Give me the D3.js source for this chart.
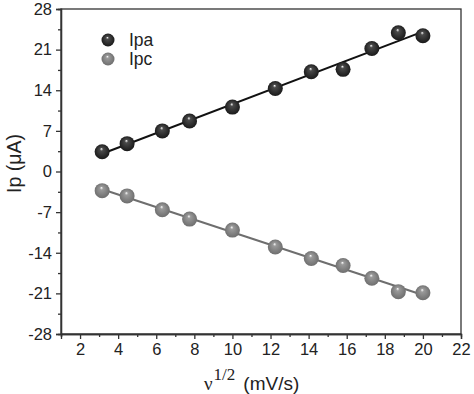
<!DOCTYPE html>
<html>
<head>
<meta charset="utf-8">
<script src="https://d3js.org/d3.v7.min.js"></script>
<style>
  body { margin: 0; background: #fff; }
  svg { display: block; font-family: "Liberation Sans", Arial, sans-serif; }
</style>
</head>
<body>
<div id="chart"></div>
<script>
// sqrt of scan rate (mV/s)^1/2
var sqrtRate = [3.16, 4.47, 6.32, 7.75, 10.0, 12.25, 14.14, 15.81, 17.32, 18.71, 20.0];
var ipa = [3.4, 4.8, 7.0, 8.7, 11.1, 14.3, 17.2, 17.6, 21.2, 23.9, 23.4];
var ipc = [-3.3, -4.2, -6.6, -8.2, -10.1, -13.0, -15.0, -16.2, -18.4, -20.7, -20.9];

var xTicks = [2, 4, 6, 8, 10, 12, 14, 16, 18, 20, 22];
var xMinor = [1, 3, 5, 7, 9, 11, 13, 15, 17, 19, 21];
var yTicks = [-28, -21, -14, -7, 0, 7, 14, 21, 28];
var yMinor = [-24.5, -17.5, -10.5, -3.5, 3.5, 10.5, 17.5, 24.5];

var W = 474, H = 394;
var m = {left: 61, right: 13, top: 9, bottom: 60};

var svg = d3.select("#chart").append("svg").attr("width", W).attr("height", H);

var defs = svg.append("defs");
function sphere(id, mid, dark) {
  var g = defs.append("radialGradient").attr("id", id)
    .attr("cx", "0.5").attr("cy", "0.5").attr("r", "0.55")
    .attr("fx", "0.45").attr("fy", "0.3");
  g.append("stop").attr("offset", "0%").attr("stop-color", "#fff");
  g.append("stop").attr("offset", "20%").attr("stop-color", mid);
  g.append("stop").attr("offset", "100%").attr("stop-color", dark);
}
sphere("gBlack", "#4a4a4a", "#151515");
sphere("gGray", "#9a9a9a", "#6a6a6a");

var x = d3.scaleLinear().domain([1, 22]).range([m.left, W - m.right]);
var y = d3.scaleLinear().domain([-28, 28]).range([H - m.bottom, m.top]);

var axisColor = "#333";

// frame
svg.append("rect")
  .attr("x", x(1)).attr("y", y(28))
  .attr("width", x(22) - x(1)).attr("height", y(-28) - y(28))
  .attr("fill", "none").attr("stroke", axisColor).attr("stroke-width", 1.3);

function styleAxis(g) {
  g.select(".domain").attr("stroke", axisColor).attr("stroke-width", 1.3);
  g.selectAll(".tick line").attr("stroke", axisColor).attr("stroke-width", 1.3);
  g.selectAll(".tick text").attr("fill", "#222").style("font-size", "16.5px")
    .style("font-family", "'Liberation Sans', Arial, sans-serif");
}

var xAxis = svg.append("g").attr("transform", "translate(0," + y(-28) + ")")
  .call(d3.axisBottom(x).tickValues(xTicks).tickSize(5).tickPadding(4).tickFormat(d3.format("d")));
styleAxis(xAxis);
var xAxisMinor = svg.append("g").attr("transform", "translate(0," + y(-28) + ")")
  .call(d3.axisBottom(x).tickValues(xMinor).tickSize(3).tickFormat(""));
styleAxis(xAxisMinor);

var yAxis = svg.append("g").attr("transform", "translate(" + x(1) + ",0)")
  .call(d3.axisLeft(y).tickValues(yTicks).tickSize(5).tickPadding(4).tickFormat(d3.format("d")));
styleAxis(yAxis);
var yAxisMinor = svg.append("g").attr("transform", "translate(" + x(1) + ",0)")
  .call(d3.axisLeft(y).tickValues(yMinor).tickSize(3).tickFormat(""));
styleAxis(yAxisMinor);
yAxis.selectAll(".tick text").text(function(d) { return d < 0 ? "-" + Math.abs(d) : d; });

// least squares fit lines
function fit(xs, ys) {
  var mx = d3.mean(xs), my = d3.mean(ys);
  var sxy = d3.sum(xs, function(v, i) { return (v - mx) * (ys[i] - my); });
  var sxx = d3.sum(xs, function(v) { return (v - mx) * (v - mx); });
  var b = sxy / sxx, a = my - b * mx;
  var x0 = d3.min(xs), x1 = d3.max(xs);
  return [[x0, a + b * x0], [x1, a + b * x1]];
}

var series = [
  {name: "Ipa", vals: ipa, line: "#111", fill: "url(#gBlack)"},
  {name: "Ipc", vals: ipc, line: "#6e6e6e", fill: "url(#gGray)"}
];

var line = d3.line().x(function(d) { return x(d[0]); }).y(function(d) { return y(d[1]); });

series.forEach(function(s) {
  svg.append("path").datum(fit(sqrtRate, s.vals))
    .attr("d", line).attr("fill", "none")
    .attr("stroke", s.line).attr("stroke-width", 2);
});

series.forEach(function(s) {
  svg.append("g").selectAll("circle").data(s.vals).enter().append("circle")
    .attr("cx", function(d, i) { return x(sqrtRate[i]); })
    .attr("cy", function(d) { return y(d); })
    .attr("r", 7.5)
    .attr("fill", s.fill);
});

// legend
var leg = svg.append("g");
series.forEach(function(s, i) {
  leg.append("circle").attr("cx", 108).attr("cy", 40 + i * 19).attr("r", 6.5).attr("fill", s.fill);
  leg.append("text").attr("x", 129).attr("y", 46 + i * 19)
    .style("font-size", "17.5px").attr("fill", "#222").text(s.name);
});

// axis titles
svg.append("text")
  .attr("transform", "translate(21," + (y(0) - 8) + ") rotate(-90)")
  .attr("text-anchor", "middle")
  .style("font-size", "19.5px").attr("fill", "#222")
  .text("Ip (\u03BCA)");

var xt = svg.append("text").attr("x", 204).attr("y", 390)
  .attr("fill", "#222").style("font-size", "19px");
xt.append("tspan").style("font-family", "'Liberation Serif', 'Times New Roman', serif").text("\u03BD");
xt.append("tspan").attr("dy", -10).attr("dx", 1).style("font-family", "'Liberation Serif', 'Times New Roman', serif")
  .style("font-size", "17px").text("1/2");
xt.append("tspan").attr("dy", 10).attr("dx", 8).text("(mV/s)");
</script>
</body>
</html>
